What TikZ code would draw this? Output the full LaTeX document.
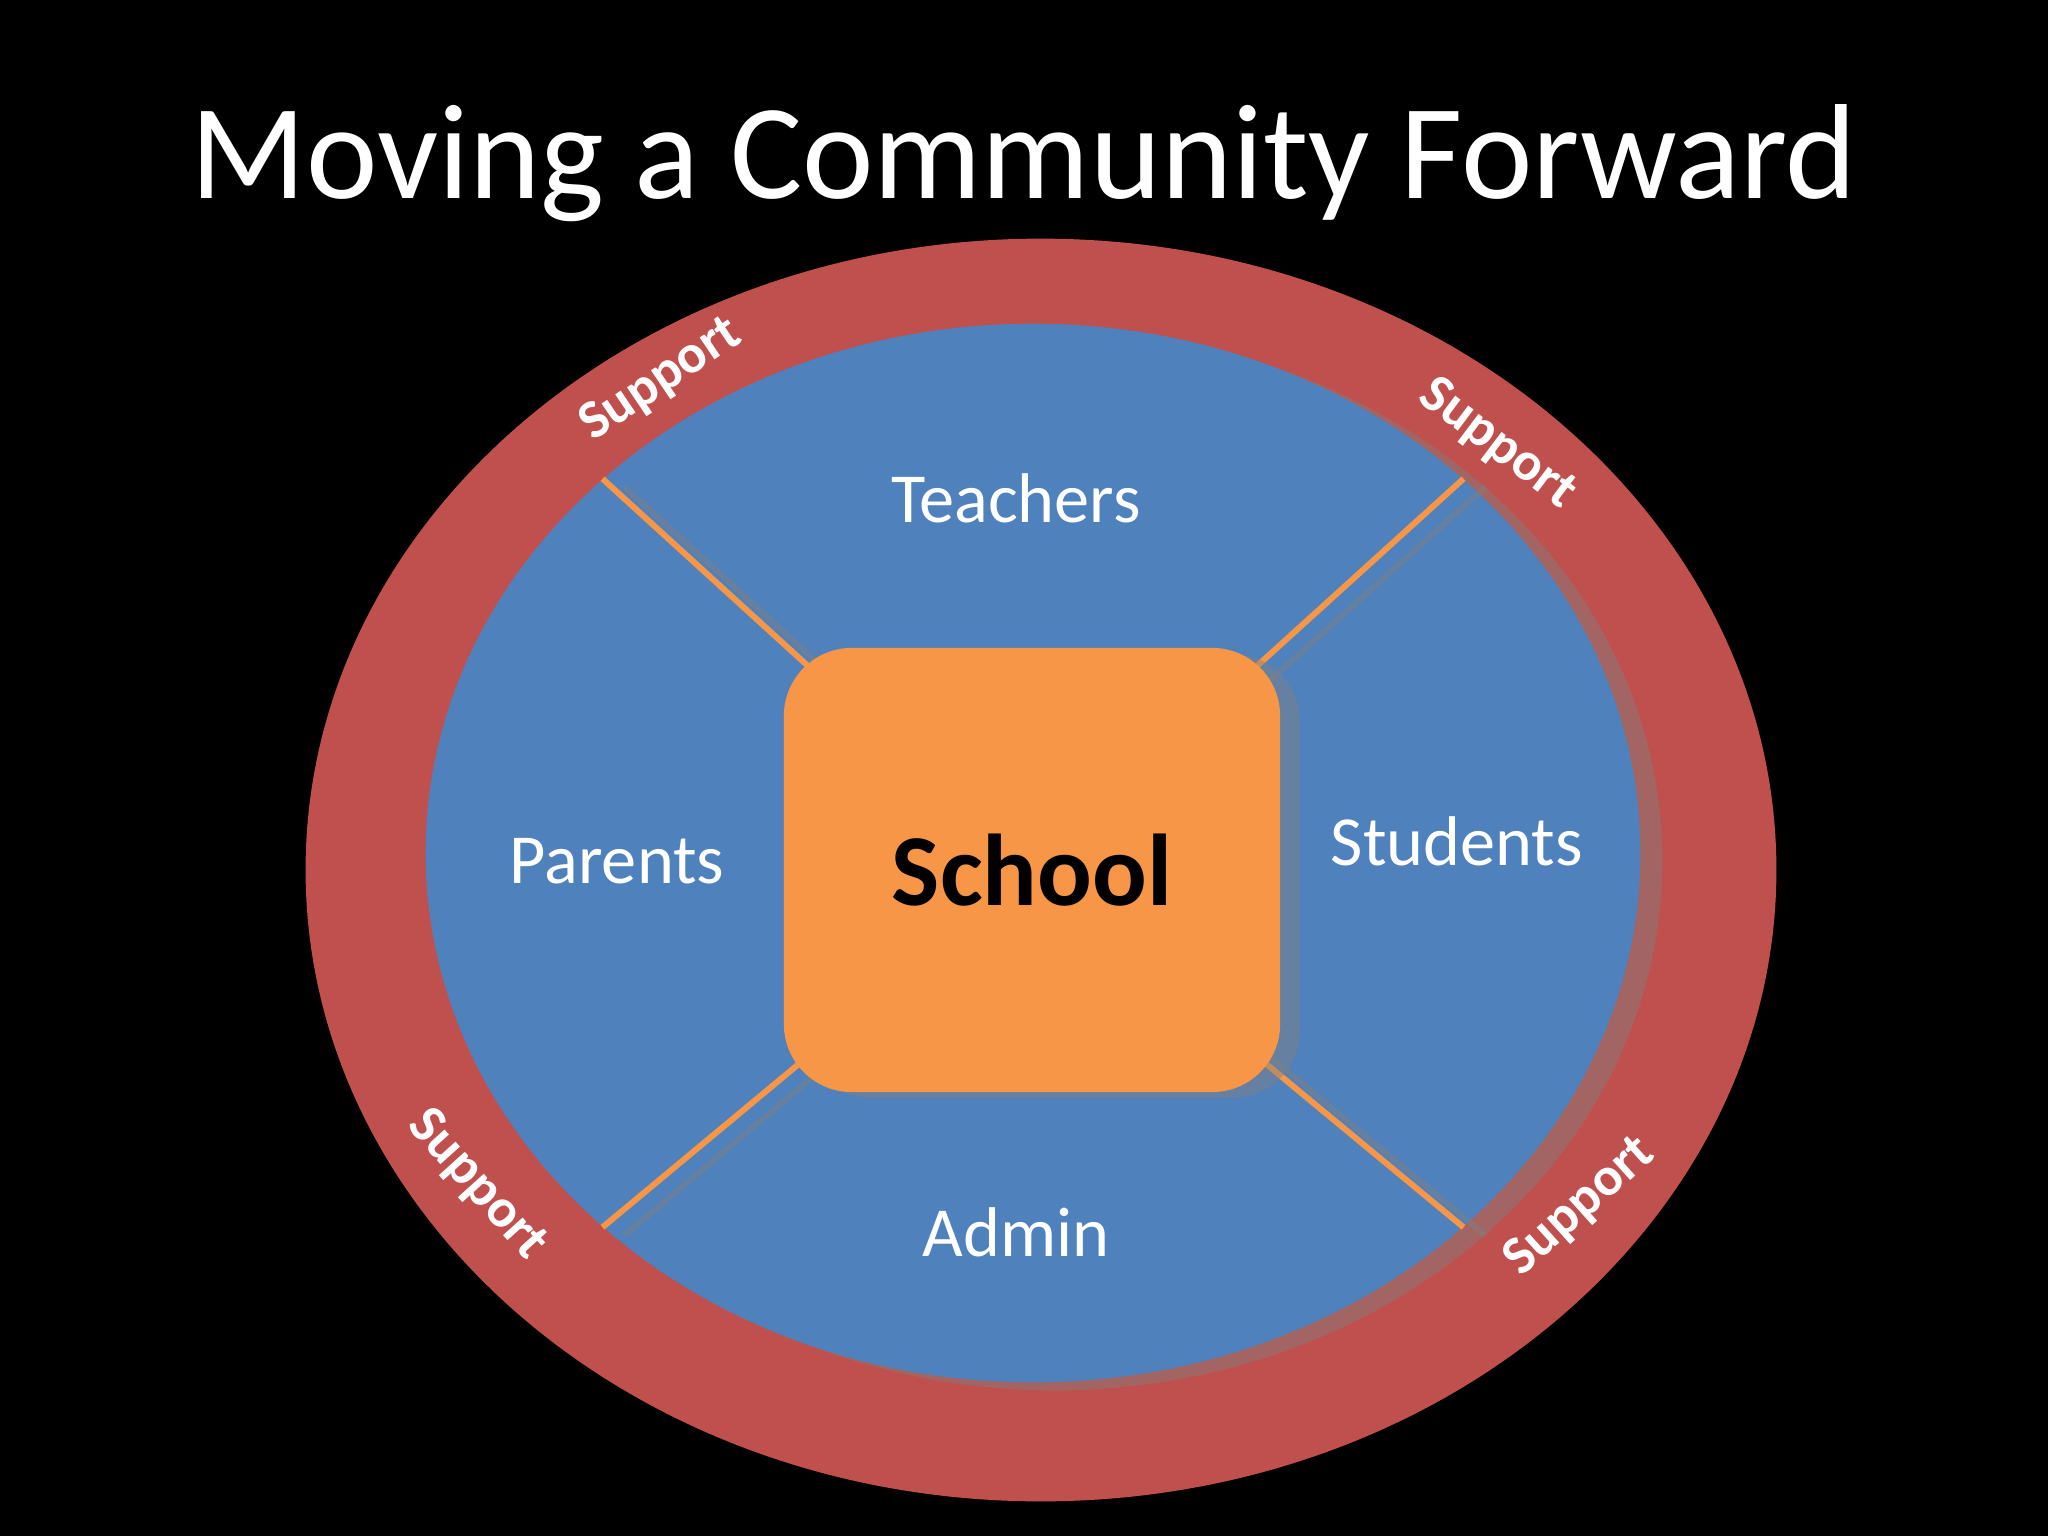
\documentclass[tikz,border=0pt]{standalone}
\usepackage{fontspec}
\setmainfont{Carlito}
\usetikzlibrary{shapes.geometric}

\definecolor{ringred}{HTML}{C0504D}
\definecolor{poolblue}{HTML}{4F81BD}
\definecolor{schoolorange}{HTML}{F79646}

\tikzset{
  blob/.style={ellipse, inner sep=0pt},
  dropshadow/.style={fill=gray, opacity=.45, draw=none},
  spoke/.style={draw=schoolorange, line width=1.7pt},
  spokeshadow/.style={draw=gray, opacity=.45, line width=1.7pt},
  grouplabel/.style={text=white, anchor=base, inner sep=0pt, font=\fontsize{20}{24}\selectfont},
  supportlabel/.style={text=white, inner sep=0pt, font=\bfseries\fontsize{15.5}{19}\selectfont},
}

\begin{document}
\begin{tikzpicture}[x=0.01cm, y=-0.01cm]
    \useasboundingbox (0,0) rectangle (2048,1536);
    \fill[black](0,0)rectangle(2048,1536);

    \node[anchor=base, text=white, inner sep=0pt, font=\fontsize{38.5}{46}\selectfont] (title) at (1024,198) {Moving a Community Forward};

    \node[blob, fill=ringred, minimum width=14.70cm, minimum height=12.62cm] (ring) at (1041,870) {};
    \node[blob, dropshadow, minimum width=12.14cm, minimum height=10.58cm] (poolshadow) at (1055,861) {};
    \node[blob, fill=poolblue, minimum width=12.14cm, minimum height=10.58cm] (pool) at (1033,853) {};

    \coordinate (hub) at (1032,870);
    \coordinate (hubshadow) at (1052,876);

    \draw[spokeshadow](pool.139)++(22,8)--(hubshadow);
    \draw[spokeshadow](pool.41)++(22,8)--(hubshadow);
    \draw[spokeshadow](pool.-139)++(22,8)--(hubshadow);
    \draw[spokeshadow](pool.-41)++(22,8)--(hubshadow);

    \draw[spoke](pool.139)--(hub);
    \draw[spoke](pool.41)--(hub);
    \draw[spoke](pool.-139)--(hub);
    \draw[spoke](pool.-41)--(hub);

    \node[rectangle, rounded corners=0.68cm, dropshadow, minimum width=4.96cm, minimum height=4.44cm] (schoolshadow) at (hubshadow) {};
    \node[rectangle, rounded corners=0.68cm, fill=schoolorange, minimum width=4.96cm, minimum height=4.44cm, inner sep=0pt, font=\bfseries\fontsize{29}{34}\selectfont] (school) at (hub) {\raisebox{-4pt}{School}};

    \node[grouplabel] (teachers) at (1016,522) {Teachers};
    \node[grouplabel] (parents) at (617,883) {Parents};
    \node[grouplabel] (students) at (1457,865) {Students};
    \node[grouplabel] (admin) at (1016,1256) {Admin};

    \node[supportlabel, rotate=34] (supporttl) at (661,380) {Support};
    \node[supportlabel, rotate=-37] (supporttr) at (1497,444) {Support};
    \node[supportlabel, rotate=-48] (supportbl) at (477,1185) {Support};
    \node[supportlabel, rotate=42] (supportbr) at (1580,1207) {Support};
\end{tikzpicture}
\end{document}
